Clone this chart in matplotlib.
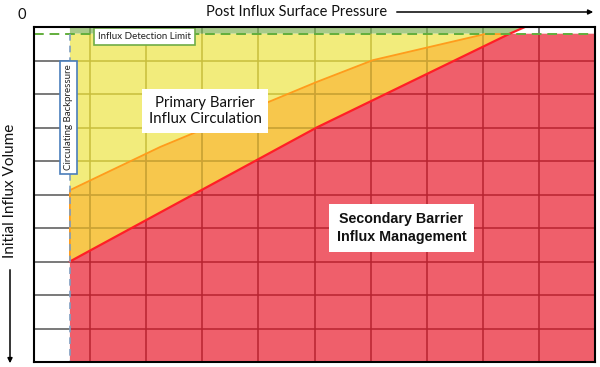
import matplotlib
matplotlib.use('Agg')
from matplotlib import pyplot as plt
from matplotlib.patches import Polygon

# grid is 10 x 10 cells, y counts down from the top (0 = surface)
n_cells = 10
detection_limit = 0.2
backpressure_x = 0.64

# upper edge of the orange band (primary barrier limit)
orange_x = [0.64, 2.25, 5.04, 6.04, 8.04, 8.40]
orange_y = [4.87, 3.58, 1.64, 0.99, 0.21, 0.21]

# red line (secondary barrier limit)
red_x = [0.64, 5.04, 8.48, 8.75]
red_y = [7.0, 3.0, 0.2, 0.0]

title = 'Post Influx Surface Pressure'
ylabel = 'Initial Influx Volume'
primary_label = 'Primary Barrier\nInflux Circulation'
secondary_label = 'Secondary Barrier\nInflux Management'
detection_label = 'Influx Detection Limit'
backpressure_label = 'Circulating Backpressure'

calibri = ['Lato', 'DejaVu Sans']

fig = plt.figure(figsize=(6, 3.67), dpi=100)
ax = fig.add_axes([34 / 600, 1 - 362 / 367, 561 / 600, 335 / 367])
ax.set_xlim(0, n_cells)
ax.set_ylim(n_cells, 0)
ax.set_xticks([])
ax.set_yticks([])
for s in ax.spines.values():
    s.set_color('black')
    s.set_linewidth(1.5)
    s.set_zorder(10)

grid_pos = list(range(1, n_cells))


def add_region(pts, face, grid_color):
    patch = Polygon(pts, closed=True, facecolor=face, edgecolor='none', zorder=1)
    ax.add_patch(patch)
    vl = ax.vlines(grid_pos, 0, n_cells, colors=grid_color, lw=1.1, zorder=2)
    hl = ax.hlines(grid_pos, 0, n_cells, colors=grid_color, lw=1.1, zorder=2)
    vl.set_clip_path(patch)
    hl.set_clip_path(patch)


# plain grid in the white parts
ax.vlines(grid_pos, 0, n_cells, colors='#555555', lw=1.1, zorder=0.5)
ax.hlines(grid_pos, 0, n_cells, colors='#555555', lw=1.1, zorder=0.5)

red_pts = list(zip(red_x, red_y))

# green band above the detection limit
green = [(backpressure_x, 0), (red_x[-1], 0), (red_x[-2], detection_limit),
         (backpressure_x, detection_limit)]
add_region(green, '#A8CB8A', '#6F9A52')

# yellow: between detection limit and red line
yellow = [(backpressure_x, detection_limit), (red_x[-2], detection_limit)] + red_pts[-2::-1]
add_region(yellow, '#F2EC7C', '#C8BE3C')

# orange: between orange edge and red line
orange = list(zip(orange_x, orange_y)) + red_pts[-2::-1]
add_region(orange, '#F7C74C', '#CFA034')

# red: below the red line
red = red_pts[:-1] + [(n_cells, detection_limit), (n_cells, n_cells),
                      (backpressure_x, n_cells)]
add_region(red, '#EF5F6B', '#B8232F')

# edges
ax.plot([backpressure_x] + orange_x, [red_y[0]] + orange_y, color='#FF9C1C', lw=1.3, zorder=3)
ax.plot(red_x, red_y, color='#FF1F26', lw=1.6, zorder=3.1)
ax.plot([0, n_cells], [detection_limit, detection_limit], color='#62AE3C', lw=1.4,
        ls=(0, (5, 3)), zorder=4)
ax.plot([backpressure_x, backpressure_x], [detection_limit, n_cells], color='#7E9FC2',
        lw=1.2, ls=(0, (4, 3)), zorder=4)

# labels inside the chart
ax.text(1.97, 0.29, detection_label, ha='center', va='center', fontsize=7,
        family=calibri, color='#222222', zorder=6,
        bbox=dict(boxstyle='square,pad=0.4', fc='white', ec='#70AD47', lw=1.2))
ax.text(0.62, 2.7, backpressure_label, ha='center', va='center', fontsize=7,
        rotation=90, family=calibri, color='#222222', zorder=6,
        bbox=dict(boxstyle='square,pad=0.4', fc='white', ec='#4A7EBB', lw=1.2))
ax.text(3.05, 2.5, primary_label, ha='center', va='center', fontsize=10.8,
        family=calibri, color='#111111', linespacing=1.2, zorder=6,
        bbox=dict(boxstyle='square,pad=0.45', fc='white', ec='none'))
ax.text(6.55, 6.0, secondary_label, ha='center', va='center', fontsize=10.3,
        fontweight='bold', family=['Liberation Sans', 'DejaVu Sans'], color='#111111',
        linespacing=1.3, zorder=6,
        bbox=dict(boxstyle='square,pad=0.55', fc='white', ec='none'))

# outside labels and arrows (figure pixels, origin bottom-left)
H = 367
fig.text(22 / 600, 1 - 15 / H, '0', ha='center', va='center', fontsize=10.5,
         family=calibri, color='#111111')
fig.text(297 / 600, 1 - 12 / H, title, ha='center', va='center', fontsize=10.5,
         family=calibri, color='#111111')
fig.text(10 / 600, 1 - 191 / H, ylabel, ha='center', va='center', fontsize=11,
         rotation=90, family=calibri, color='#111111')
ax.annotate('', xy=(596, H - 12), xytext=(394, H - 12), xycoords='figure pixels',
            textcoords='figure pixels',
            arrowprops=dict(arrowstyle='-|>', color='black', lw=1.1, mutation_scale=7))
ax.annotate('', xy=(10, H - 366), xytext=(10, H - 267), xycoords='figure pixels',
            textcoords='figure pixels',
            arrowprops=dict(arrowstyle='-|>', color='black', lw=1.1, mutation_scale=7))

plt.savefig('out.png', dpi=100)
